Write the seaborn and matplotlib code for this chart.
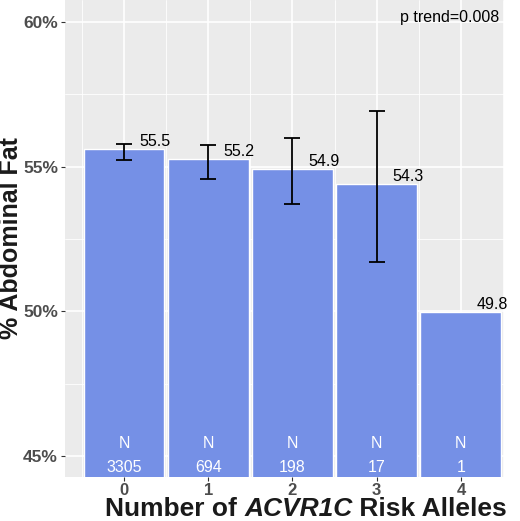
import matplotlib
matplotlib.use('Agg')
import numpy as np
import pandas as pd
import matplotlib.pyplot as plt
import seaborn as sns
from matplotlib.ticker import MultipleLocator, FuncFormatter

# 数据
alleles = [0, 1, 2, 3, 4]
fat_mean = [55.62, 55.28, 54.93, 54.41, 49.97]
err_low = [55.24, 54.59, 53.72, 51.72, np.nan]
err_high = [55.79, 55.76, 56.00, 56.93, np.nan]
mean_labels = ['55.5', '55.2', '54.9', '54.3', '49.8']
n_counts = ['3305', '694', '198', '17', '1']

df = pd.DataFrame({'alleles': alleles, 'fat': fat_mean})

sns.set_theme(style='darkgrid')
plt.rcParams['font.family'] = ['Liberation Sans', 'DejaVu Sans']

fig = plt.figure(figsize=(5.2, 5.21), dpi=100)
ax = fig.add_axes([0.125, 0.0845, 0.844, 0.9155])
ax.set_facecolor('#EBEBEB')

sns.barplot(data=df, x='alleles', y='fat', color='#7590E6', saturation=1,
            width=0.96, edgecolor='white', linewidth=1, ax=ax, zorder=2)

# 误差线
mean_arr = np.array(fat_mean)
yerr = np.vstack([mean_arr - np.array(err_low), np.array(err_high) - mean_arr])
ax.errorbar(alleles, fat_mean, yerr=yerr, fmt='none', ecolor='black',
            elinewidth=1.3, capsize=6, capthick=1.3, zorder=3)

# 数值标签
for i, (m, lab) in enumerate(zip(fat_mean, mean_labels)):
    ax.text(alleles[i] + 0.37, m, lab, ha='center', va='bottom',
            fontsize=11.5, color='black', zorder=4)

# 样本量
for i, n in enumerate(n_counts):
    ax.text(alleles[i], 45.42, 'N', ha='center', va='center',
            fontsize=11.5, color='white', zorder=4)
    ax.text(alleles[i], 44.6, n, ha='center', va='center',
            fontsize=11.5, color='white', zorder=4)

ax.text(4.46, 60.17, 'p trend=0.008', ha='right', va='center',
        fontsize=11.5, color='black')

ax.set_xlim(-0.70, 4.51)
ax.set_ylim(44.28, 60.76)
ax.yaxis.set_major_locator(MultipleLocator(5))
ax.yaxis.set_minor_locator(MultipleLocator(2.5))
ax.xaxis.set_minor_locator(MultipleLocator(0.5))
ax.yaxis.set_major_formatter(FuncFormatter(lambda v, p: f'{v:.0f}%'))
ax.grid(which='major', color='white', linewidth=1.2, zorder=0)
ax.grid(which='minor', color='white', linewidth=0.6, zorder=0)
ax.set_axisbelow(True)
for s in ax.spines.values():
    s.set_visible(False)

ax.tick_params(axis='both', which='major', length=3, width=0.8, color='#333333',
               labelsize=12.5, labelcolor='#4D4D4D', pad=2, bottom=True, left=True)
ax.tick_params(axis='x', which='major', labelsize=12, pad=1)
ax.tick_params(axis='both', which='minor', length=0)
for lab in ax.get_xticklabels() + ax.get_yticklabels():
    lab.set_fontweight('bold')

ax.set_xlabel('')
ax.set_ylabel('')
fig.text(11 / 520, 1 - 238.5 / 521, '% Abdominal Fat', rotation=90,
         fontsize=18, fontweight='bold', color='#1A1A1A', ha='center', va='center')

# x轴标题（ACVR1C 斜体）
fig.canvas.draw()
renderer = fig.canvas.get_renderer()
parts = [('Number of ', 'normal'), ('ACVR1C', 'italic'), (' Risk Alleles', 'normal')]
texts = []
for s, st in parts:
    t = fig.text(0, 0, s, fontsize=19, fontweight='bold', fontstyle=st,
                 color='#1A1A1A', va='baseline', ha='left')
    texts.append(t)
widths = [t.get_window_extent(renderer).width for t in texts]
total = sum(widths)
x0 = 306 - total / 2
yb = (521 - 516.5) / 521
for t, w in zip(texts, widths):
    t.set_position((x0 / 520, yb))
    x0 += w

fig.savefig('out.png', dpi=100)
